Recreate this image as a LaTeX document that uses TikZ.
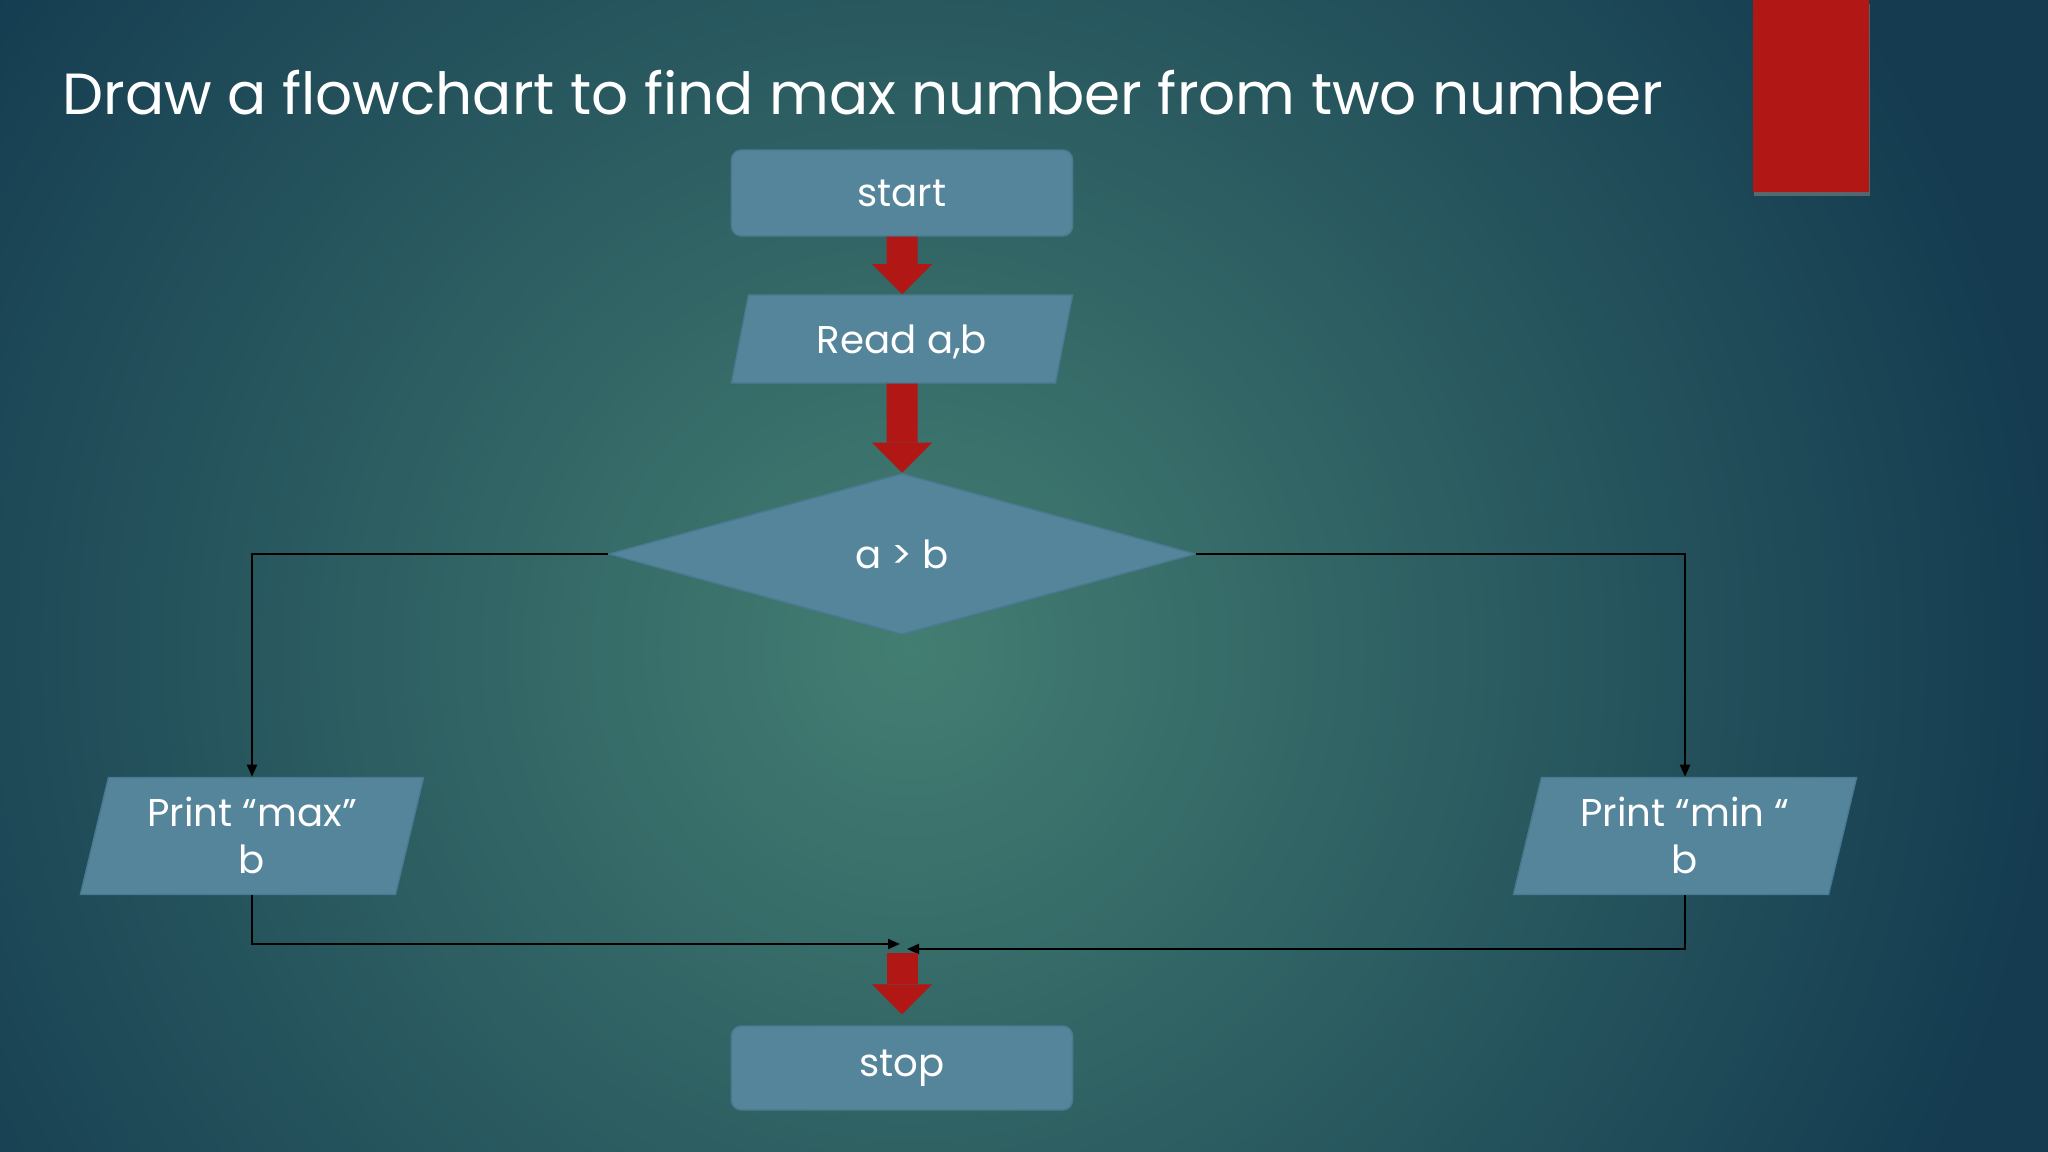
\documentclass[tikz,border=0pt]{standalone}
\usepackage{fontspec}
\setmainfont{Poppins}
\usepackage{xcolor}
\usepackage{tikz}
\usetikzlibrary{shapes.geometric,arrows.meta,shadows}

\definecolor{bgin}{HTML}{437E72}
\definecolor{bgout}{HTML}{143B50}
\definecolor{boxfill}{HTML}{54859B}
\definecolor{boxline}{HTML}{4A7A91}
\definecolor{arrowred}{HTML}{B01715}

\begin{document}
\begin{tikzpicture}[
	x=0.01cm, y=-0.01cm,
	box/.style={draw=boxline, fill=boxfill, text=white, font=\fontsize{11}{13.5}\selectfont, inner sep=0pt, align=center},
	term/.style={box, rectangle, rounded corners=0.1cm, minimum width=3.41cm, minimum height=0.86cm},
	io/.style={box, trapezium, trapezium stretches body=true, trapezium left angle=79, trapezium right angle=101, minimum width=3.41cm, text height=0.58cm, text depth=0.30cm},
	printbox/.style={io, trapezium left angle=76.5, trapezium right angle=103.5, minimum width=3.43cm, text height=0.96cm, text depth=0.21cm},
	decision/.style={box, diamond, minimum width=5.86cm, minimum height=1.61cm},
	fat/.style={draw=arrowred, line width=0.31cm, -{Triangle[width=0.6cm, length=0.3cm, line width=0pt]}},
	flow/.style={draw=black, line width=0.6pt, -{Triangle[width=0.1cm, length=0.12cm]}}
	]
	\useasboundingbox (0,0) rectangle (2048,1152);
	% Hintergrund
	\fill[bgout] (0,0) rectangle (2048,1152);
	\begin{scope}
		\clip (0,0) rectangle (2048,1152);
		\shade[inner color=bgin, outer color=bgout] (910,650) circle (11.5cm);
	\end{scope}
	\fill[arrowred, drop shadow={shadow xshift=0.01cm, shadow yshift=-0.04cm, opacity=0.6}] (1753,0) rectangle (1869,192);
	
	\node[anchor=base west, text=white, font=\fontsize{16.5}{20}\selectfont, inner sep=0pt] (title) at (62,115) {Draw a flowchart to find max number from two number};
	
	% Knoten
	\node[term] (start) at (902,193) {start};
	\node[io] (read) at (902,339) {Read a,b};
	\node[decision] (cond) at (902,554) {a > b};
	\node[printbox] (pmax) at (252,836) {Print “max”\\ b};
	\node[printbox] (pmin) at (1685,836) {Print “min “\\ b};
	\node[term, minimum height=0.84cm] (stop) at (902,1068) {stop};
	
	\coordinate (inL) at (900,944);
	\coordinate (inR) at (907,949);
	\coordinate (join) at (902,953);
	
	% Pfeile
	\draw[fat] (start.south) -- (read.north);
	\draw[fat] (read.south) -- (cond.north);
	\draw[flow] (cond.west) -| (pmax.north);
	\draw[flow] (cond.east) -| (pmin.north);
	\draw[flow] (pmax.south) |- (inL);
	\draw[flow] (pmin.south) |- (inR);
	\draw[fat] (join) -- ([yshift=0.11cm]stop.north);
\end{tikzpicture}
\end{document}
